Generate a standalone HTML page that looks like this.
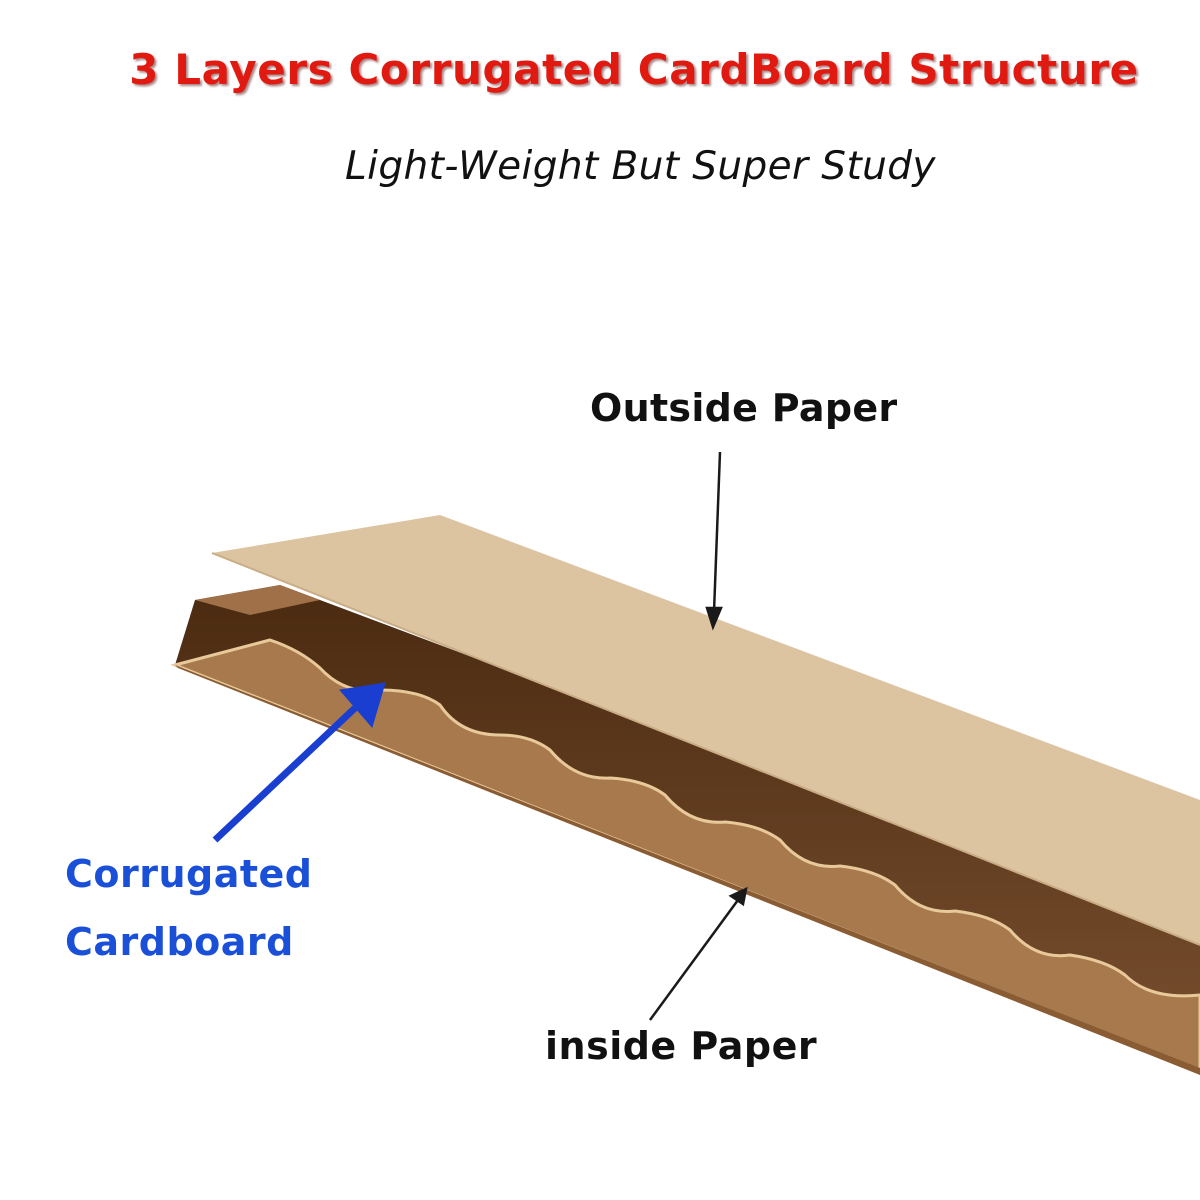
<!DOCTYPE html>
<html><head><style>
body{margin:0;width:1200px;height:1200px;background:#fff;overflow:hidden;position:relative;font-family:"DejaVu Sans","Liberation Sans",sans-serif}
.t{position:absolute;white-space:nowrap}
</style></head><body>
<svg width="1200" height="1200" style="position:absolute;left:0;top:0">
<defs>
<linearGradient id="dk" x1="0" y1="0" x2="0" y2="1"><stop offset="0" stop-color="#4a2a10"/><stop offset="1" stop-color="#7a5030"/></linearGradient>
</defs>
<polygon points="195,600 280,585 1200,930 1200,1070 175,665" fill="url(#dk)"/>
<polygon points="195,600 280,585 320,600 250,615" fill="#a07048"/>
<path d="M175,665 L270,640 Q300,650 320,668 Q345,695 380,690 Q420,690 440,705 Q460,735 500,735 Q530,735 550,750 Q575,780 610,778 Q645,780 665,795 Q690,825 725,822 Q760,825 780,840 Q805,870 840,866 Q875,870 895,885 Q920,915 955,911 Q990,915 1010,930 Q1035,960 1070,955 Q1105,960 1125,975 Q1150,1000 1200,995 L1200,1070 Z" fill="#a8794c" stroke="#e8c99a" stroke-width="3"/>
<polygon points="175,665 1200,1068 1200,1075 178,668" fill="#8a5c34"/>
<polygon points="212,553 440,515 1200,800 1200,945" fill="#dcc4a0"/>
<line x1="212" y1="553" x2="1200" y2="945" stroke="#c9ad86" stroke-width="2"/>
<g stroke="#1a1a1a" stroke-width="2.5" fill="#1a1a1a">
<line x1="720" y1="452" x2="714" y2="612"/><polygon points="707,608 721,608 713,627"/>
<line x1="650" y1="1020" x2="738" y2="900"/><polygon points="731,896 743,904 746,889"/>
</g>
<g stroke="#1a3fd0" fill="#1a3fd0">
<line x1="215" y1="840" x2="355" y2="708" stroke-width="7"/>
<polygon points="340,690 385,683 372,727"/>
</g>
</svg>
<div class="t" style="left:0;width:1268px;text-align:center;top:45px;font-size:42px;letter-spacing:0.6px;font-weight:bold;color:#e01a10;text-shadow:2px 2px 2px #a88">3 Layers Corrugated CardBoard Structure</div>
<div class="t" style="left:345px;top:144px;font-size:39px;letter-spacing:0.4px;font-style:italic;color:#111">Light-Weight But Super Study</div>
<div class="t" style="left:590px;top:386px;font-size:38px;letter-spacing:0.3px;font-weight:bold;color:#111">Outside Paper</div>
<div class="t" style="left:65px;top:852px;font-size:38px;letter-spacing:0.5px;font-weight:bold;color:#1a50d8">Corrugated</div>
<div class="t" style="left:65px;top:920px;font-size:38px;letter-spacing:0.5px;font-weight:bold;color:#1a50d8">Cardboard</div>
<div class="t" style="left:545px;top:1024px;font-size:38px;letter-spacing:0.5px;font-weight:bold;color:#111">inside Paper</div>
</body></html>
